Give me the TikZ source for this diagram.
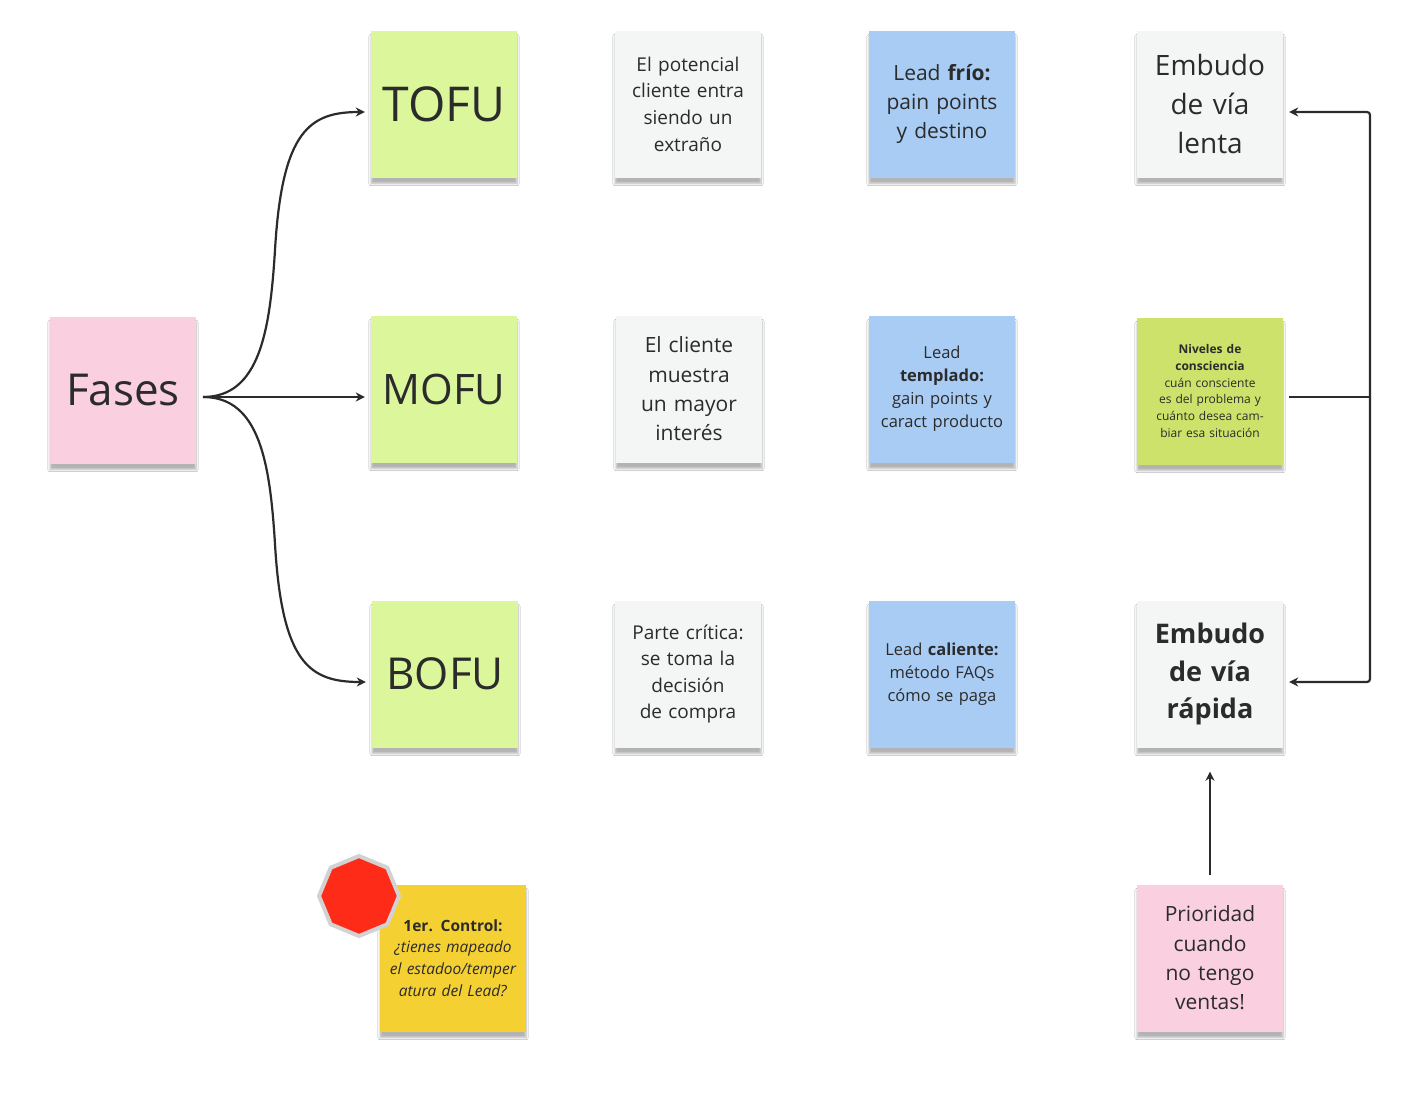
\documentclass[tikz,border=0pt]{standalone}
\usepackage{fontspec}
\setmainfont{Open Sans}
\usetikzlibrary{shapes.geometric,shadows.blur,arrows.meta}
\definecolor{pinkn}{HTML}{FAD0E0}
\definecolor{greenn}{HTML}{DCF79B}
\definecolor{whiten}{HTML}{F4F5F5}
\definecolor{bluen}{HTML}{A9CCF4}
\definecolor{limen}{HTML}{CDE26A}
\definecolor{yellown}{HTML}{F5D033}
\definecolor{ink}{HTML}{2B2B2B}
\tikzset{
 note/.style={minimum width=146pt,minimum height=147pt,text width=130pt,align=center,inner sep=0pt,text=ink,
   blur shadow={shadow xshift=0pt,shadow yshift=-6pt,shadow blur steps=6,shadow opacity=30}},
 fs/.style={font=\fontsize{#1}{\dimexpr#1pt*14/10\relax}\selectfont},
 arr/.style={draw=ink,line width=2.2pt,-{Stealth[length=9pt,width=9pt]}}
}
\begin{document}
\begin{tikzpicture}[x=1pt,y=-1pt]
\useasboundingbox[fill=white] (0,0) rectangle (1425,1095);
\node[note,fill=pinkn,fs=44] (fases) at (123,390) {Fases};
\node[note,fill=greenn,fs=48] (tofu) at (444,104) {TOFU};
\node[note,fill=greenn,fs=42] (mofu) at (444,389) {MOFU};
\node[note,fill=greenn,fs=44] (bofu) at (445,674) {BOFU};
\node[note,fill=whiten,fs=19,text width=125pt] (c1) at (688,104) {El potencial cliente entra siendo un extraño};
\node[note,fill=whiten,fs=21,text width=125pt] (c2) at (689,389) {El cliente muestra un mayor interés};
\node[note,fill=whiten,fs=19,text width=125pt] (c3) at (688,674) {Parte crítica: se toma la decisión de compra};
\node[note,fill=bluen,fs=21,text width=125pt] (b1) at (942,104) {Lead \textbf{frío:} pain points y destino};
\node[note,fill=bluen,fs=16.5,text width=125pt] (b2) at (942,389) {Lead\\ \textbf{templado:}\\ gain points y caract producto};
\node[note,fill=bluen,fs=16.5,text width=130pt] (b3) at (942,674) {Lead \textbf{caliente:} método FAQs cómo se paga};
\node[note,fill=whiten,fs=28,text width=130pt] (e1) at (1210,104) {Embudo de vía lenta};
\node[note,fill=limen,fs=12,text width=120pt] (niv) at (1210,391) {\textbf{Niveles de consciencia}\\ cuán consciente es del problema y cuánto desea cambiar esa situación};
\node[note,fill=whiten,fs=27,text width=130pt] (e2) at (1210,674) {\textbf{Embudo de vía rápida}};
\node[note,fill=pinkn,fs=21,text width=125pt] (prio) at (1210,958) {Prioridad cuando no tengo ventas!};
\node[note,fill=yellown,fs=15.5,text width=130pt] (ctl) at (453,958) {\textbf{1er. Control:}\\ \textit{¿tienes mapeado el estadoo/temper atura del Lead?}};
\node[regular polygon,regular polygon sides=8,minimum size=80pt,fill=red!85!orange!90,draw=gray!35,line width=4pt,shape border rotate=22.5] (stop) at (359,896) {};
\coordinate (fo) at (203,397);
\draw[arr] (fo) .. controls (260,397) and (270,330) .. (275,250) .. controls (282,130) and (310,112) .. ([xshift=-6pt,yshift=-8pt]tofu.west);
\draw[arr] (fo) -- ([xshift=-6pt,yshift=-8pt]mofu.west);
\draw[arr] (fo) .. controls (260,397) and (270,464) .. (275,544) .. controls (282,664) and (310,682) .. ([xshift=-6pt,yshift=-8pt]bofu.west);
\coordinate (r1) at (1370,397);
\coordinate (rt) at (1370,112);
\coordinate (rb) at (1370,682);
\draw[draw=ink,line width=2.2pt] ([xshift=6pt,yshift=-6pt]niv.east) -- (r1);
\draw[arr,rounded corners=3pt] (r1) -- (rt) -- ([xshift=6pt,yshift=-8pt]e1.east);
\draw[arr,rounded corners=3pt] (r1) -- (rb) -- ([xshift=6pt,yshift=-8pt]e2.east);
\draw[arr] ([yshift=9pt]prio.north) -- ([yshift=-24pt]e2.south);
\end{tikzpicture}
\end{document}
